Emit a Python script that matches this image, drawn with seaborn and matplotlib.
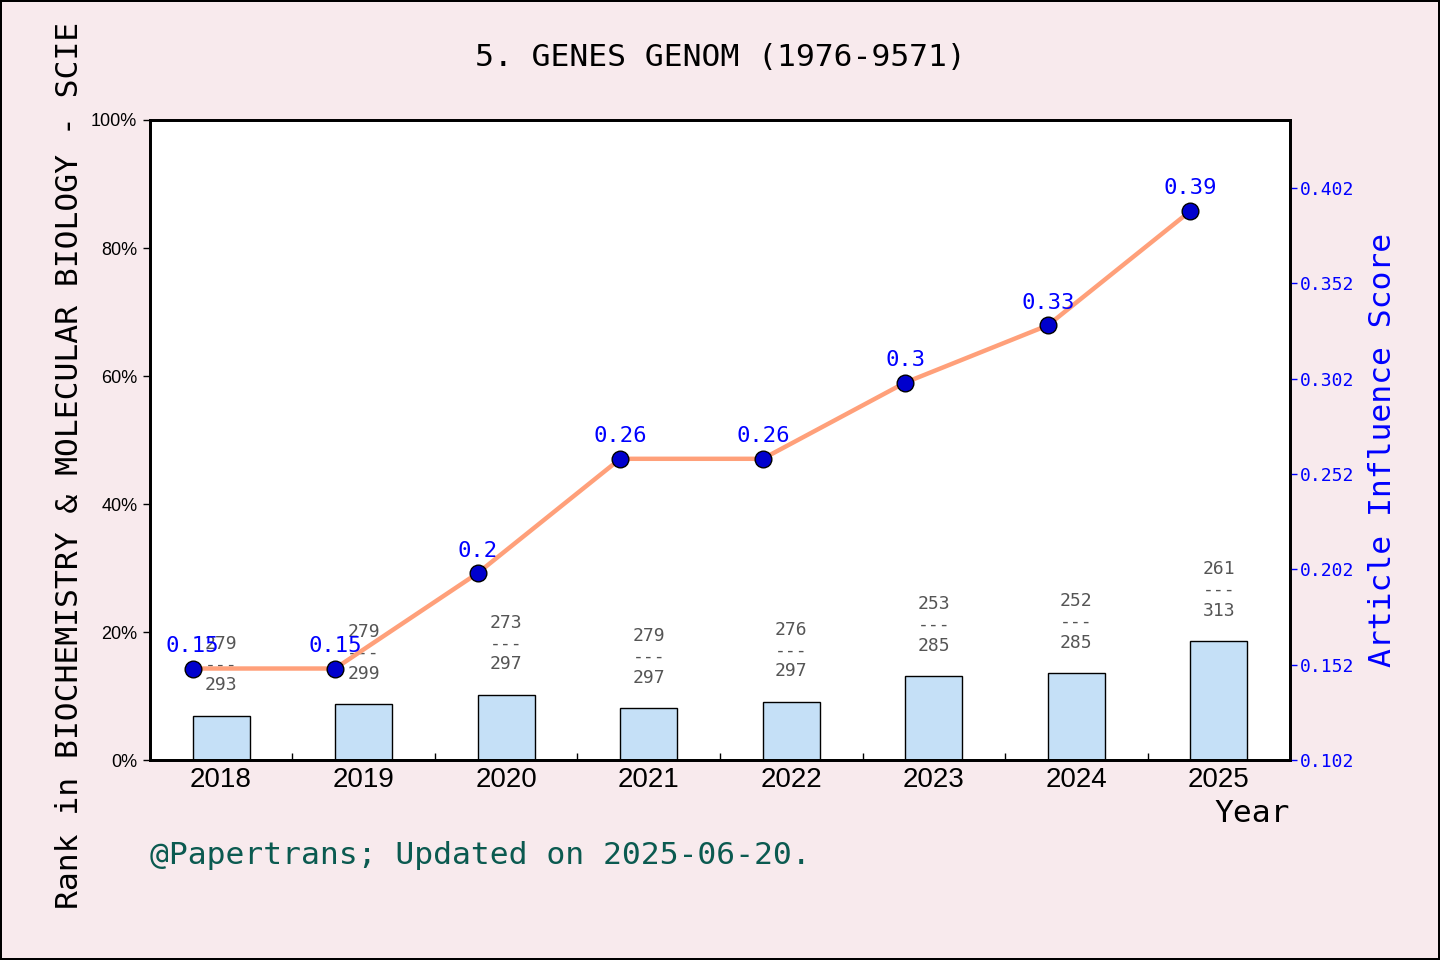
import numpy as np
import pandas as pd
import seaborn as sns
import matplotlib.pyplot as plt
from matplotlib.ticker import FixedLocator, PercentFormatter

# data
years = ['2018', '2019', '2020', '2021', '2022', '2023', '2024', '2025']
bar_pct = [6.9, 8.75, 10.2, 8.1, 9.1, 13.1, 13.6, 18.6]
ranks = [279, 279, 273, 279, 276, 253, 252, 261]
totals = [293, 299, 297, 297, 297, 285, 285, 313]
ais = [0.15, 0.15, 0.20, 0.26, 0.26, 0.30, 0.33, 0.39]
ais_ticks = [0.102, 0.152, 0.202, 0.252, 0.302, 0.352, 0.402]

df = pd.DataFrame({'Year': years, 'Pct': bar_pct, 'Rank': ranks, 'Total': totals, 'AIS': ais})

bg = '#F8EAED'
mono = 'DejaVu Sans Mono'
sans = 'Liberation Sans'
big = 22.6

sns.set_style('white')
plt.rcParams['font.family'] = [sans, 'DejaVu Sans']
plt.rcParams['text.color'] = 'black'
plt.rcParams['axes.labelcolor'] = 'black'
plt.rcParams['xtick.color'] = 'black'
plt.rcParams['ytick.color'] = 'black'

fig = plt.figure(figsize=(14.4, 9.6), dpi=100, facecolor=bg, edgecolor='black', linewidth=1.5)
ax = fig.add_axes([0.104, 0.2083, 0.792, 0.6667])
ax.set_facecolor('white')

#---------- bars ----------
sns.barplot(data=df, x='Year', y='Pct', order=years, color='#C5E0F7', width=0.4,
            edgecolor='black', linewidth=1, saturation=1, ax=ax)
ax.set_ylim(0, 100)
ax.set_xlim(-0.5, len(years) - 0.5)
ax.yaxis.set_major_locator(FixedLocator([0, 20, 40, 60, 80, 100]))
ax.yaxis.set_major_formatter(PercentFormatter(decimals=0))
ax.tick_params(axis='y', labelsize=13, length=5, width=1, direction='out', left=True, pad=4)
ax.tick_params(axis='x', labelsize=20, length=0, pad=5)
ax.xaxis.set_minor_locator(FixedLocator(np.arange(0.5, len(years) - 0.5, 1)))
ax.tick_params(axis='x', which='minor', length=5, width=1, direction='in', bottom=True)
for s in ax.spines.values():
    s.set_linewidth(2)
    s.set_color('black')

# rank labels above bars
for i, row in df.iterrows():
    ax.text(i, row['Pct'] + 8, f"{row['Rank']}\n---\n{row['Total']}", ha='center', va='center',
            fontsize=13, color='#555555', linespacing=1.2, family=mono)

ax.set_xlabel('Year', fontsize=big, family=mono, loc='right', labelpad=4)
ax.set_ylabel('Rank in BIOCHEMISTRY & MOLECULAR BIOLOGY - SCIE', fontsize=big, family=mono)
ax.yaxis.set_label_coords(-0.058, 0.461)

#---------- line on twin axis ----------
ax2 = ax.twinx()
xpos = np.arange(len(years)) - 0.2
sns.lineplot(x=xpos, y=ais, ax=ax2, color='#FFA07A', linewidth=3.2, marker='o', markersize=12,
             markerfacecolor='#0000CD', markeredgecolor='black', markeredgewidth=1, zorder=3)
ax2.set_ylim(0.102, 0.4377)
ax2.set_xlim(-0.5, len(years) - 0.5)
ax2.yaxis.set_major_locator(FixedLocator(ais_ticks))
ax2.set_yticklabels([f'{t:.3f}' for t in ais_ticks], family=mono, fontsize=13, color='blue')
ax2.tick_params(axis='y', length=5, width=1, color='blue', direction='out', right=True, pad=2)
ax2.set_ylabel('Article Influence Score', fontsize=big, family=mono, color='blue')
ax2.yaxis.set_label_coords(1.068, 0.484)
for s in ax2.spines.values():
    s.set_linewidth(2)
    s.set_color('black')

for x, v in zip(xpos, ais):
    ax2.annotate(f'{v:g}', (x, v), xytext=(0, 9), textcoords='offset points', ha='center',
                 va='bottom', fontsize=16, color='blue', family=mono)

fig.text(0.5, 0.94, '5. GENES GENOM (1976-9571)', ha='center', va='center', fontsize=big, family=mono)
fig.text(0.104, 0.109, '@Papertrans; Updated on 2025-06-20.', ha='left', va='center', fontsize=big,
         family=mono, color='#0B5A50')

fig.savefig('out.png', dpi=100, facecolor=bg, edgecolor='black')
